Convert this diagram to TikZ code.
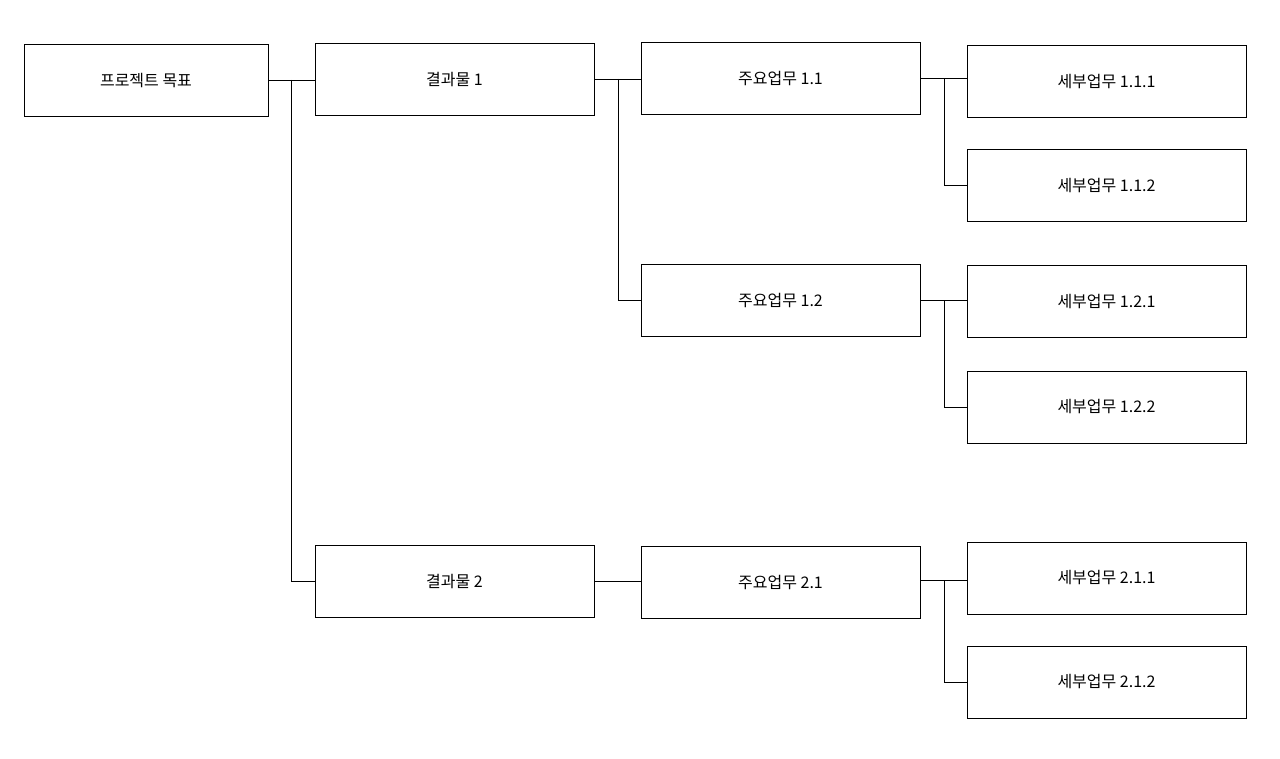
\documentclass[tikz,border=0pt]{standalone}
\usepackage{fontspec}
\newfontfamily\kr{Noto Sans CJK KR}
\begin{document}
\begin{tikzpicture}[x=1pt,y=-1pt,
  bx/.style={draw,line width=1pt,minimum width=279pt,minimum height=72pt,inner sep=0pt,font=\kr\fontsize{16}{18}\selectfont},
  ln/.style={line width=1pt}]
\useasboundingbox (0,0) rectangle (1280,759);
\node[bx,minimum width=244pt] (g) at (146,81) {프로젝트 목표};
\node[bx] (d1) at (454.5,80) {결과물 1};
\node[bx] (d2) at (454.5,581.5) {결과물 2};
\node[bx] (m11) at (780.5,79) {주요업무 1.1};
\node[bx] (m12) at (780.5,301) {주요업무 1.2};
\node[bx] (m21) at (780.5,582) {주요업무 2.1};
\node[bx] (s111) at (1106.5,81.5) {세부업무 1.1.1};
\node[bx] (s112) at (1106.5,186) {세부업무 1.1.2};
\node[bx] (s121) at (1106.5,302) {세부업무 1.2.1};
\node[bx] (s122) at (1106.5,407) {세부업무 1.2.2};
\node[bx] (s211) at (1106.5,578) {세부업무 2.1.1};
\node[bx] (s212) at (1106.5,682) {세부업무 2.1.2};
\coordinate (j0) at (291,80);
\coordinate (j1) at (618,79);
\coordinate (j11) at (944,79);
\coordinate (j12) at (944,301);
\coordinate (j21) at (944,580);
\draw[ln] (g.east) -- (g.east -| d1.west);
\draw[ln] (j0) |- (d2.west);
\draw[ln] (d1.east) -- (d1.east -| m11.west);
\draw[ln] (j1) |- (m12.west);
\draw[ln] (m11.east) -- (m11.east -| s111.west);
\draw[ln] (j11) |- (s112.west);
\draw[ln] (m12.east) -- (m12.east -| s121.west);
\draw[ln] (j12) |- (s122.west);
\draw[ln] (d2.east) -- (d2.east -| m21.west);
\draw[ln] (m21.east |- j21) -- (j21 -| s211.west);
\draw[ln] (j21) |- (s212.west);
\end{tikzpicture}
\end{document}
